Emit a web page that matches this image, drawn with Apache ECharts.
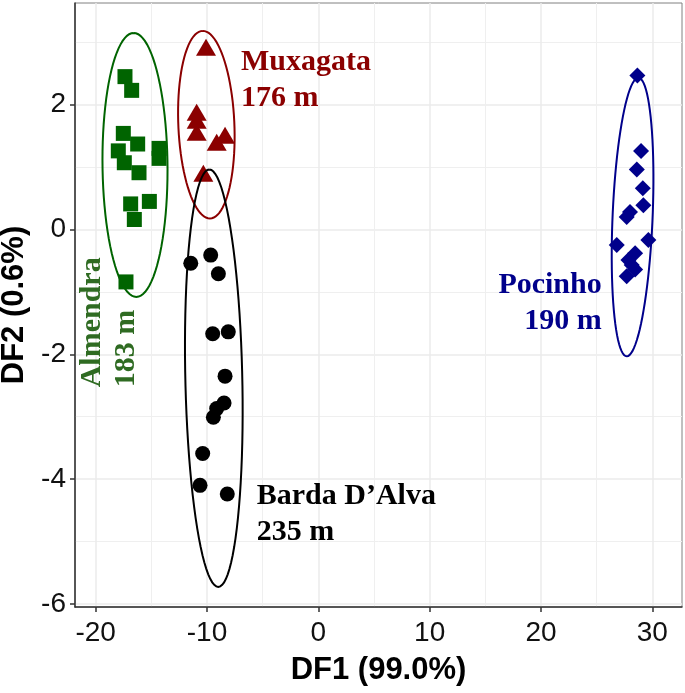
<html lang="en">

<head>
    <meta charset="UTF-8">
    <title>DF1 vs DF2</title>
    <script src="https://cdn.jsdelivr.net/npm/echarts@6.0.0/dist/echarts.min.js"></script>
    <style>
        body { margin: 0; background: #fff; }
    </style>
</head>

<body>
    <div id="main" style="width: 685px;height: 693px"></div>
    <script type="text/javascript">
        // points
        var almendraX = [-17.37, -16.77, -17.52, -16.23, -17.97, -14.31, -14.31, -17.43, -16.11, -16.86, -15.18, -16.53, -17.28];
        var almendraY = [2.45, 2.23, 1.54, 1.37, 1.26, 1.30, 1.14, 1.07, 0.91, 0.41, 0.45, 0.16, -0.84];
        var muxagataX = [-10.09, -10.93, -10.93, -10.93, -8.38, -9.13, -10.33];
        var muxagataY = [2.92, 1.88, 1.75, 1.56, 1.51, 1.40, 0.90];
        var bardaX = [-11.46, -9.67, -8.98, -9.49, -8.09, -8.38, -8.47, -9.13, -9.43, -10.39, -10.63, -8.18];
        var bardaY = [-0.54, -0.41, -0.71, -1.67, -1.64, -2.35, -2.78, -2.87, -3.01, -3.59, -4.10, -4.24];
        var pocinhoX = [28.66, 28.99, 28.61, 29.15, 29.20, 28.00, 27.70, 26.81, 29.65, 28.46, 27.86, 28.46, 27.70, 28.15];
        var pocinhoY = [2.47, 1.26, 0.96, 0.66, 0.39, 0.28, 0.20, -0.25, -0.17, -0.38, -0.49, -0.64, -0.75, -0.57];

        // ellipses: centre, half-axis u (dx, dy) and half-axis v (dx)
        var ellipseCx = [-16.47, -10.06, -9.39, 28.23];
        var ellipseCy = [1.035, 1.68, -2.383, 0.20];
        var ellipseUx = [-0.12, -0.32, -0.40, 0.52];
        var ellipseUy = [2.115, 1.503, 3.345, 2.232];
        var ellipseVx = [2.92, 2.52, 2.56, 1.80];

        var groupColors = ['#006400', '#8b0000', '#000000', '#00008b'];
        var labelColors = ['#2f6b22', '#8b0000', '#000000', '#00008b'];

        // ticks
        var xTicks = [-20, -10, 0, 10, 20, 30];
        var xMinor = [-15, -5, 5, 15, 25];
        var yTicks = [-6, -4, -2, 0, 2];
        var yMinor = [-5, -3, -1, 1, 3];

        // site labels
        var labelText = ['Almendra\n183 m', 'Muxagata\n176 m', 'Barda D\u2019Alva\n235 m', 'Pocinho\n190 m'];
        var labelX = [-21.84, -6.95, -5.53, 25.46];
        var labelY = [-2.53, 2.97, -3.99, -0.60];

        var xMin = -21.86, xMax = 32.67, yMin = -6.05, yMax = 3.63;

        function pts(xs, ys) {
            return xs.map(function (x, i) { return [x, ys[i]]; });
        }

        var myChart = echarts.init(document.getElementById('main'));

        var axisFont = { fontFamily: 'Liberation Sans, Arial', fontSize: 28, color: '#111' };
        var nameFont = { fontFamily: 'Liberation Sans, Arial', fontSize: 31, fontWeight: 'bold', color: '#000' };

        var option = {
            animation: false,
            grid: {
                left: 75, right: 3, top: 3, bottom: 86,
                containLabel: false, outerBoundsMode: 'none',
                show: true, borderColor: '#808080', borderWidth: 1
            },
            xAxis: [{
                type: 'value', min: xMin, max: xMax,
                name: 'DF1 (99.0%)', nameLocation: 'middle', nameGap: 48,
                nameTextStyle: nameFont,
                axisLine: { onZero: false, lineStyle: { color: '#333', width: 1.5 } },
                axisTick: { customValues: xTicks, length: 5, lineStyle: { color: '#333', width: 1.5 } },
                axisLabel: Object.assign({ customValues: xTicks, margin: 12 }, axisFont),
                splitLine: { show: true, lineStyle: { color: '#ebebeb', width: 1.5 } }
            }, {
                type: 'value', min: xMin, max: xMax, position: 'bottom',
                axisLine: { show: false },
                axisTick: { show: false, customValues: xMinor },
                axisLabel: { show: false, customValues: xMinor },
                splitLine: { show: true, lineStyle: { color: '#efefef', width: 1 } }
            }],
            yAxis: [{
                type: 'value', min: yMin, max: yMax,
                name: 'DF2 (0.6%)', nameLocation: 'middle', nameGap: 44,
                nameTextStyle: nameFont,
                axisLine: { onZero: false, lineStyle: { color: '#333', width: 1.5 } },
                axisTick: { customValues: yTicks, length: 5, lineStyle: { color: '#333', width: 1.5 } },
                axisLabel: Object.assign({ customValues: yTicks, margin: 9 }, axisFont),
                splitLine: { show: true, lineStyle: { color: '#ebebeb', width: 1.5 } }
            }, {
                type: 'value', min: yMin, max: yMax, position: 'left',
                axisLine: { show: false },
                axisTick: { show: false, customValues: yMinor },
                axisLabel: { show: false, customValues: yMinor },
                splitLine: { show: true, lineStyle: { color: '#efefef', width: 1 } }
            }],
            series: [
                {
                    name: 'Almendra', type: 'scatter', symbol: 'rect', symbolSize: 15,
                    itemStyle: { color: groupColors[0], opacity: 1 }, data: pts(almendraX, almendraY), z: 3
                },
                {
                    name: 'Muxagata', type: 'scatter', symbol: 'triangle', symbolSize: [20, 17],
                    itemStyle: { color: groupColors[1], opacity: 1 }, data: pts(muxagataX, muxagataY), z: 3
                },
                {
                    name: 'Barda D\u2019Alva', type: 'scatter', symbol: 'circle', symbolSize: 15,
                    itemStyle: { color: groupColors[2], opacity: 1 }, data: pts(bardaX, bardaY), z: 3
                },
                {
                    name: 'Pocinho', type: 'scatter', symbol: 'diamond', symbolSize: 16,
                    itemStyle: { color: groupColors[3], opacity: 1 }, data: pts(pocinhoX, pocinhoY), z: 3
                },
                {
                    type: 'custom', z: 4, silent: true,
                    data: ellipseCx.map(function (c, i) { return [c, ellipseCy[i], ellipseUx[i], ellipseUy[i], ellipseVx[i], i]; }),
                    renderItem: function (params, api) {
                        var cx = api.value(0), cy = api.value(1);
                        var ux = api.value(2), uy = api.value(3), vx = api.value(4);
                        var ring = [];
                        for (var k = 0; k <= 90; k++) {
                            var t = Math.PI * 2 * k / 90;
                            ring.push(api.coord([cx + Math.cos(t) * ux + Math.sin(t) * vx, cy + Math.cos(t) * uy]));
                        }
                        return {
                            type: 'polyline',
                            shape: { points: ring },
                            style: { fill: null, stroke: groupColors[api.value(5)], lineWidth: 2 }
                        };
                    }
                },
                {
                    type: 'scatter', symbolSize: 0, silent: true, z: 5,
                    itemStyle: { opacity: 1 },
                    data: labelText.map(function (t, i) {
                        return {
                            value: [labelX[i], labelY[i]],
                            label: {
                                formatter: t,
                                color: labelColors[i],
                                align: i === 3 ? 'right' : 'left',
                                rotate: i === 0 ? 90 : 0,
                                lineHeight: i === 0 ? 34 : 36
                            }
                        };
                    }),
                    label: {
                        show: true, position: [0, 0], verticalAlign: 'top', opacity: 1,
                        fontFamily: 'Liberation Serif, Times New Roman', fontWeight: 'bold', fontSize: 30
                    }
                }
            ]
        };
        myChart.setOption(option);
    </script>
</body>

</html>
